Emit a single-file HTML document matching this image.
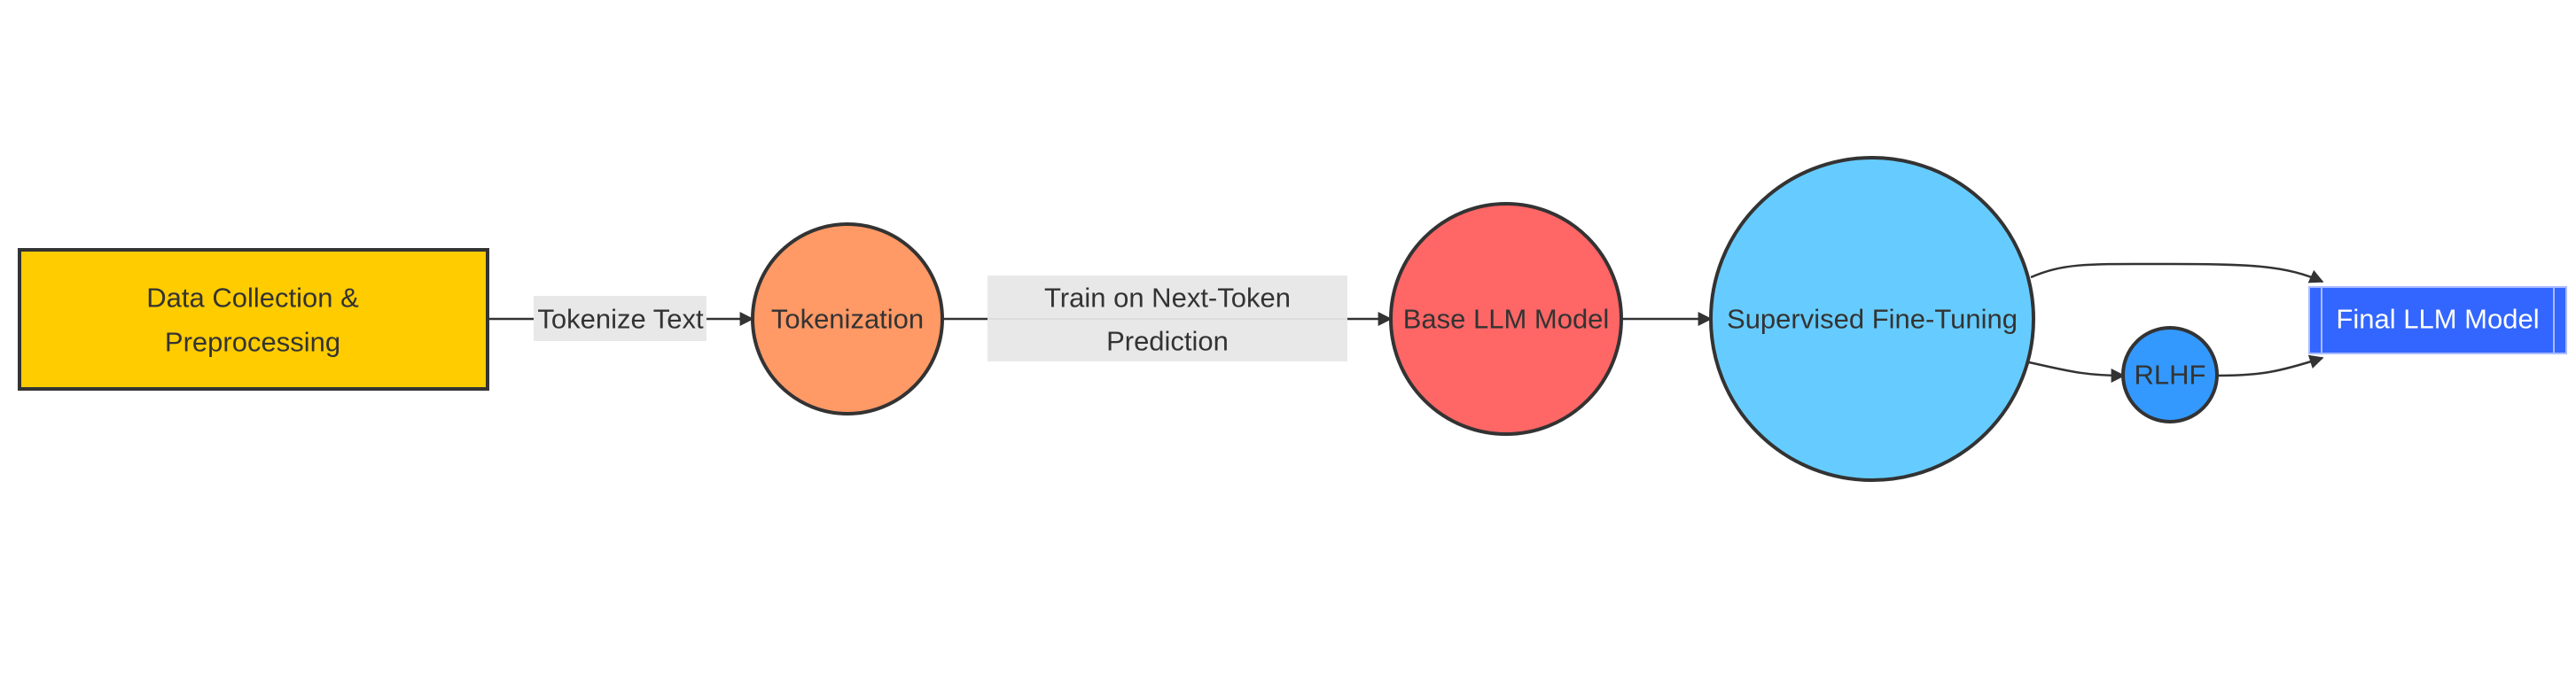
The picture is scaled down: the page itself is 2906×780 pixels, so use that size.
<!DOCTYPE html>
<html><head><meta charset="utf-8"><style>
html,body{margin:0;padding:0;background:#fff;}
svg{display:block;}
text{font-family:"Liberation Sans","DejaVu Sans",sans-serif;font-size:31px;fill:#333;text-anchor:middle;dominant-baseline:central;}
</style></head><body>
<svg width="2906" height="780" viewBox="0 0 2906 780" xmlns="http://www.w3.org/2000/svg">
<defs>
<marker id="b" viewBox="0 0 10 10" refX="9" refY="5" markerWidth="16" markerHeight="16" markerUnits="userSpaceOnUse" orient="auto"><path d="M0,0L10,5L0,10z" fill="#333"/></marker>
</defs>
<g stroke="#333" stroke-width="2.5" fill="none">
<path d="M550,360H849" marker-end="url(#b)"/>
<path d="M1063,360H1569" marker-end="url(#b)"/>
<path d="M1829,360H1930" marker-end="url(#b)"/>
<path d="M2291,313C2330,296 2360,298 2450,298C2540,298 2580,300 2620,318" marker-end="url(#b)"/>
<path d="M2289,409C2330,418 2350,424 2396,424" marker-end="url(#b)"/>
<path d="M2500,424C2550,424 2570,420 2620,404" marker-end="url(#b)"/>
</g>
<rect x="22" y="282" width="528" height="157" fill="#ffcc00" stroke="#333" stroke-width="4"/>
<text x="285" y="336">Data Collection &amp;</text>
<text x="285" y="386">Preprocessing</text>
<rect x="602" y="334" width="195" height="51" fill="#e8e8e8"/>
<text x="700" y="360">Tokenize Text</text>
<circle cx="956" cy="360" r="107" fill="#ff9966" stroke="#333" stroke-width="4"/>
<text x="956" y="360">Tokenization</text>
<rect x="1114" y="311" width="406" height="97" fill="#e8e8e8"/>
<line x1="1114" y1="360" x2="1520" y2="360" stroke="#ddd" stroke-width="2"/>
<text x="1317" y="336">Train on Next-Token</text>
<text x="1317" y="385">Prediction</text>
<circle cx="1699" cy="360" r="130" fill="#ff6666" stroke="#333" stroke-width="4"/>
<text x="1699" y="360">Base LLM Model</text>
<circle cx="2112" cy="360" r="182" fill="#66ccff" stroke="#333" stroke-width="4"/>
<text x="2112" y="360">Supervised Fine-Tuning</text>
<circle cx="2448" cy="423" r="53" fill="#3399ff" stroke="#333" stroke-width="4"/>
<text x="2448" y="423">RLHF</text>
<rect x="2605" y="324" width="290" height="75" fill="#3366ff" stroke="#aabbff" stroke-width="2"/>
<line x1="2619" y1="324" x2="2619" y2="399" stroke="#aabbff" stroke-width="2"/>
<line x1="2881" y1="324" x2="2881" y2="399" stroke="#aabbff" stroke-width="2"/>
<text x="2750" y="360" style="fill:#fff">Final LLM Model</text>
</svg>
</body></html>
